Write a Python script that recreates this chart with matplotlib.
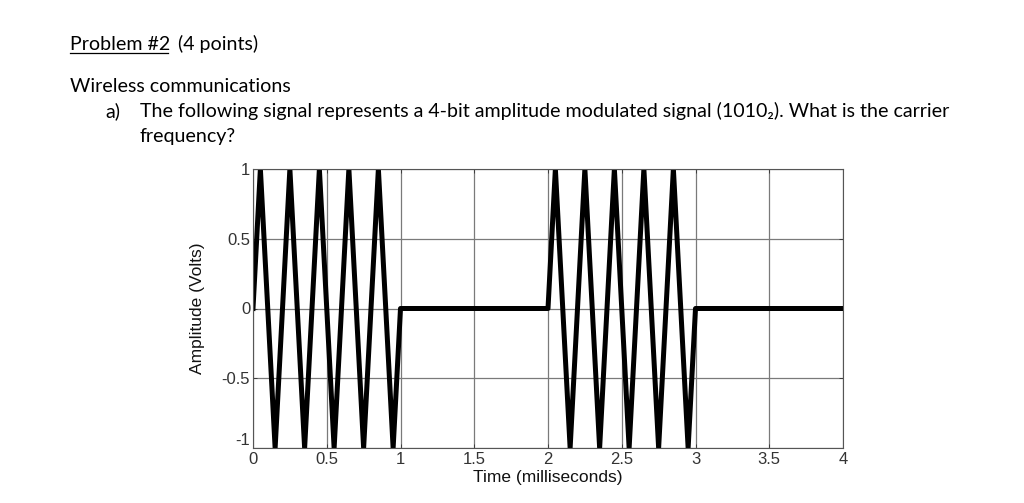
import matplotlib
matplotlib.use("Agg")
from matplotlib import pyplot as plt
from matplotlib.lines import Line2D

# bit pattern and one "1" burst (ms, volts)
bits = [1, 0, 1, 0]
burst_t = [0.00, 0.05, 0.10, 0.15, 0.20, 0.25, 0.30, 0.35, 0.40, 0.45, 0.50,
           0.55, 0.60, 0.65, 0.70, 0.75, 0.80, 0.85, 0.90, 0.95, 1.00]
burst_v = [0, 1, 0, -1, 0, 1, 0, -1, 0, 1, 0,
           -1, 0, 1, 0, -1, 0, 1, 0, -1, 0]
flat_t = [0.00, 1.00]
flat_v = [0, 0]

x_ticks = [0, 0.5, 1, 1.5, 2, 2.5, 3, 3.5, 4]
x_labels = ["0", "0.5", "1", "1.5", "2", "2.5", "3", "3.5", "4"]
y_ticks = [-1, -0.5, 0, 0.5, 1]
y_labels = ["-1", "-0.5", "0", "0.5", "1"]

TEXT_FONT = ["Lato", "DejaVu Sans"]


def build_signal():
    t, v = [], []
    for i, b in enumerate(bits):
        bt, bv = (burst_t, burst_v) if b else (flat_t, flat_v)
        t += [i + x for x in bt]
        v += list(bv)
    return t, v


def main():
    fig = plt.figure(figsize=(10.24, 5.03), dpi=100)
    fs = 14.15

    # question text
    fig.text(70 / 1024, 1 - 50 / 503, "Problem #2", fontsize=fs, family=TEXT_FONT,
             va="baseline")
    fig.text(178 / 1024, 1 - 50 / 503, "(4 points)", fontsize=fs, family=TEXT_FONT,
             va="baseline")
    fig.add_artist(Line2D([70 / 1024, 168 / 1024], [1 - 53 / 503, 1 - 53 / 503],
                          color="black", lw=0.9))
    fig.text(70 / 1024, 1 - 92 / 503, "Wireless communications", fontsize=fs,
             family=TEXT_FONT, va="baseline")
    fig.text(105 / 1024, 1 - 117 / 503, "a)", fontsize=fs, family=TEXT_FONT,
             va="baseline")
    fig.text(140 / 1024, 1 - 117 / 503,
             "The following signal represents a 4-bit amplitude modulated signal (1010\u2082). What is the carrier",
             fontsize=fs, family=TEXT_FONT, va="baseline")
    fig.text(140 / 1024, 1 - 142 / 503, "frequency?", fontsize=fs, family=TEXT_FONT,
             va="baseline")

    ax = fig.add_axes([253 / 1024, 55 / 503, 590 / 1024, 279 / 503])
    t, v = build_signal()
    ax.plot(t, v, color="black", lw=3.6, solid_joinstyle="round")

    ax.set_xlim(0, 4)
    ax.set_ylim(-1, 1)
    ax.set_xticks(x_ticks)
    ax.set_xticklabels(x_labels)
    ax.set_yticks(y_ticks)
    ax.set_yticklabels(y_labels)
    ax.grid(True, color="#7a7a7a", lw=0.9, linestyle="-")
    ax.tick_params(direction="in", length=3, width=0.6, top=True, right=True,
                   labelsize=12, colors="#333333")
    ax.tick_params(axis="x", pad=3)
    ax.tick_params(axis="y", pad=2)
    for s in ax.spines.values():
        s.set_color("#555555")
        s.set_linewidth(0.8)
    ax.set_xlabel("Time (milliseconds)", fontsize=12.5, family="Liberation Sans",
                  labelpad=2, color="#111111")
    ax.set_ylabel("Amplitude (Volts)", fontsize=12.5, family="Liberation Sans",
                  labelpad=12, color="#111111")
    for lab in ax.get_xticklabels() + ax.get_yticklabels():
        lab.set_family("Liberation Sans")
    # MATLAB-style: the bottom y label sits a touch above the axis corner
    ax.get_yticklabels()[0].set_va("bottom")

    plt.savefig("out.png", dpi=100)


if __name__ == "__main__":
    main()
